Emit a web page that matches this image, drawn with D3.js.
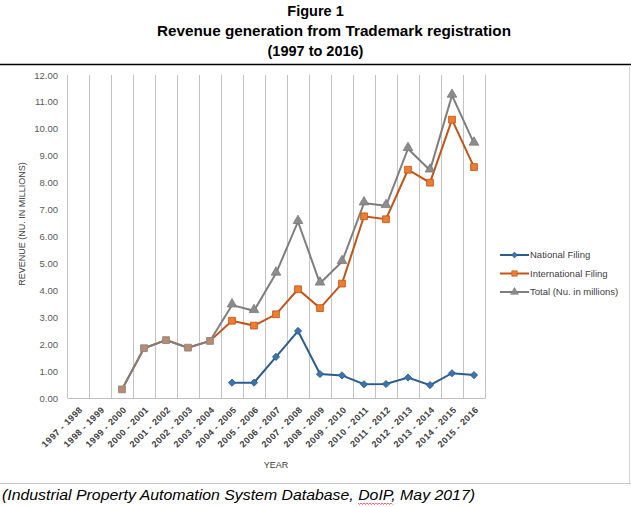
<!DOCTYPE html>
<html><head><meta charset="utf-8">
<script src="https://cdn.jsdelivr.net/npm/d3@7/dist/d3.min.js"></script>
<style>
html,body{margin:0;padding:0;background:#fff;}
svg{display:block;}
</style></head>
<body>
<script>
const categories = ["1997 - 1998","1998 - 1999","1999 - 2000","2000 - 2001","2001 - 2002","2002 - 2003","2003 - 2004","2004 - 2005","2005 - 2006","2006 - 2007","2007 - 2008","2008 - 2009","2009 - 2010","2010 - 2011","2011 - 2012","2012 - 2013","2013 - 2014","2014 - 2015","2015 - 2016"];
const nationalFiling = [null,null,null,null,null,null,null,0.57,0.57,1.53,2.49,0.89,0.84,0.51,0.52,0.76,0.48,0.92,0.85];
const internationalFiling = [null,null,0.32,1.85,2.15,1.87,2.12,2.87,2.69,3.11,4.04,3.34,4.25,6.75,6.64,8.48,8.00,10.34,8.58];
const totalRevenue = [null,null,0.32,1.85,2.15,1.87,2.12,3.45,3.24,4.63,6.55,4.26,5.06,7.24,7.14,9.26,8.46,11.24,9.46];
const yTicks = [0,1,2,3,4,5,6,7,8,9,10,11,12];
const seriesNames = ["National Filing","International Filing","Total (Nu. in millions)"];
const titleLines = ["Figure 1","Revenue generation from Trademark registration","(1997 to 2016)"];

const W = 631, H = 507;
const svg = d3.select("body").append("svg").attr("width", W).attr("height", H);

// titles
const tFont = "'Liberation Sans', Arial, sans-serif";
svg.append("text").attr("x", 315.5).attr("y", 16).attr("text-anchor","middle")
  .attr("font-family", tFont).attr("font-weight","bold").attr("font-size", 14.5).attr("fill","#000").text(titleLines[0]);
svg.append("text").attr("x", 334).attr("y", 36).attr("text-anchor","middle")
  .attr("font-family", tFont).attr("font-weight","bold").attr("font-size", 14.5).attr("fill","#000")
  .attr("textLength", 354).attr("lengthAdjust","spacingAndGlyphs").text(titleLines[1]);
svg.append("text").attr("x", 315.5).attr("y", 56).attr("text-anchor","middle")
  .attr("font-family", tFont).attr("font-weight","bold").attr("font-size", 14.5).attr("fill","#000").text(titleLines[2]);

// frame lines
svg.append("line").attr("x1",0).attr("x2",W).attr("y1",64.5).attr("y2",64.5).attr("stroke","#000").attr("stroke-width",1.5);
svg.append("line").attr("x1",629.5).attr("x2",629.5).attr("y1",65).attr("y2",484).attr("stroke","#d9d9d9");
svg.append("line").attr("x1",0).attr("x2",W).attr("y1",483.5).attr("y2",483.5).attr("stroke","#c8c8c8");

// scales
const x = d3.scaleBand().domain(categories).range([67,485]).padding(0);
const y = d3.scaleLinear().domain([0,12]).range([398,75]);
const cx = c => x(c) + x.bandwidth()/2;

// vertical gridlines
const gridX = categories.map(c => x(c)).concat([x.range()[1]]);
svg.append("g").selectAll("line").data(gridX).join("line")
  .attr("x1", d => Math.round(d)+0.5).attr("x2", d => Math.round(d)+0.5)
  .attr("y1", y(12)).attr("y2", y(0)).attr("stroke","#c4c4c4").attr("stroke-width",1);

// y axis
const yAxis = svg.append("g").attr("transform","translate(67,0)")
  .call(d3.axisLeft(y).tickValues(yTicks).tickFormat(d3.format(".2f")).tickSize(0).tickPadding(9));
yAxis.select(".domain").remove();
yAxis.selectAll("text").attr("font-family", tFont).attr("font-size", 9.5).attr("fill","#595959");

// x axis
const xAxis = svg.append("g").attr("transform","translate(0,398)")
  .call(d3.axisBottom(x).tickSize(0).tickPadding(0));
xAxis.select(".domain").attr("stroke","#bfbfbf");
xAxis.selectAll("text").attr("font-family", tFont).attr("font-size", 9).attr("font-weight","bold")
  .attr("letter-spacing", 0.5)
  .attr("fill","#404040").attr("text-anchor","end").attr("x",0).attr("y",0).attr("dy","0.35em")
  .attr("transform","translate(3,10) rotate(-45)");

// axis titles
svg.append("text").attr("x", 276).attr("y", 468).attr("text-anchor","middle")
  .attr("font-family", tFont).attr("font-size", 9).attr("fill","#404040").text("YEAR");
svg.append("text").attr("transform","translate(25,224) rotate(-90)").attr("text-anchor","middle")
  .attr("font-family", tFont).attr("font-size", 9).attr("fill","#404040").text("REVENUE (NU. IN MILLIONS)");

// series
const pts = arr => categories.map((c,i) => ({c, v: arr[i], i})).filter(d => d.v !== null);
const line = d3.line().x(d => cx(d.c)).y(d => y(d.v));

const natColor = "#2c5d8f", natMark = "#3b73ad";
const intLine = "#c25418", intMark = "#ed7d31", intStroke = "#c65a1a";
const totLine = "#7f7f7f", totMark = "#8c8c8c";

svg.append("path").datum(pts(nationalFiling)).attr("d", line).attr("fill","none").attr("stroke", natColor).attr("stroke-width",2);
svg.append("path").datum(pts(internationalFiling)).attr("d", line).attr("fill","none").attr("stroke", intLine).attr("stroke-width",2);
svg.append("path").datum(pts(totalRevenue)).attr("d", line).attr("fill","none").attr("stroke", totLine).attr("stroke-width",2);

const diamond = d3.symbol().type(d3.symbolSquare).size(26);
const square = d3.symbol().type(d3.symbolSquare).size(46);
const triangle = d3.symbol().type(d3.symbolTriangle).size(40);

svg.append("g").selectAll("path").data(pts(nationalFiling)).join("path")
  .attr("d", diamond).attr("transform", d => `translate(${cx(d.c)},${y(d.v)}) rotate(45)`)
  .attr("fill", natMark).attr("stroke", natColor).attr("stroke-width",0.8);

svg.append("g").selectAll("path").data(pts(totalRevenue).filter(d => d.v !== internationalFiling[d.i])).join("path")
  .attr("d", triangle).attr("transform", d => `translate(${cx(d.c)},${y(d.v)-1})`)
  .attr("fill", totMark).attr("stroke", "#7a7a7a").attr("stroke-width",0.8);

svg.append("g").selectAll("path").data(pts(internationalFiling)).join("path")
  .attr("d", square).attr("transform", d => `translate(${cx(d.c)},${y(d.v)})`)
  .attr("fill", d => d.v === totalRevenue[d.i] ? "#b98b70" : intMark)
  .attr("stroke", d => d.v === totalRevenue[d.i] ? "#8f8580" : intStroke).attr("stroke-width",0.9);

// legend
const legend = svg.append("g");
const legY = [255, 273.5, 292];
const legItems = [
  {name: seriesNames[0], lc: natColor, sym: diamond, rot: 45, fill: natMark, st: natColor},
  {name: seriesNames[1], lc: intLine, sym: square, rot: 0, fill: intMark, st: intStroke},
  {name: seriesNames[2], lc: totLine, sym: triangle, rot: 0, fill: totMark, st: "#7a7a7a"}
];
legItems.forEach((it, i) => {
  const g = legend.append("g").attr("transform", `translate(0,${legY[i]})`);
  g.append("line").attr("x1",500).attr("x2",529).attr("y1",0).attr("y2",0).attr("stroke", it.lc).attr("stroke-width",2);
  g.append("path").attr("d", it.sym).attr("transform",`translate(514.5,0) scale(0.8) rotate(${it.rot})`).attr("fill", it.fill).attr("stroke", it.st).attr("stroke-width",0.8);
  g.append("text").attr("x",530).attr("y",0).attr("dy","0.35em").attr("font-family", tFont)
    .attr("font-size", 9.5).attr("fill","#404040").text(it.name);
});

// caption
const cap = svg.append("text").attr("x", 2).attr("y", 500).attr("font-family", tFont)
  .attr("font-style","italic").attr("font-size", 15).attr("fill","#000")
  .attr("textLength", 473).attr("lengthAdjust","spacingAndGlyphs")
  .text("(Industrial Property Automation System Database, DoIP, May 2017)");
// spell-check squiggle under DoIP
const capText = cap.text();
const start = capText.indexOf("DoIP");
const node = cap.node();
const sx = node.getStartPositionOfChar(start).x;
const ex = node.getEndPositionOfChar(start + 3).x;
let sq = `M${sx},503`;
for (let xx = sx, k = 0; xx < ex; xx += 1.5, k++) sq += ` L${xx+1.5},${k % 2 ? 503 : 504.5}`;
svg.append("path").attr("d", sq).attr("fill","none").attr("stroke","#e02020").attr("stroke-width",0.7);
</script>
</body></html>
